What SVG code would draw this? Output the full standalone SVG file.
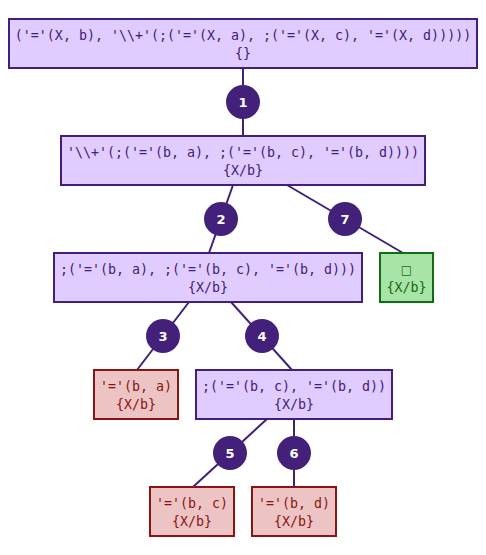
<svg xmlns="http://www.w3.org/2000/svg" width="486" height="555" viewBox="0 0 486 555">
<style>
  .goal rect { fill: #e0ccff; stroke: #40207a; stroke-width: 2; }
  .goal text { fill: #40207a; }
  .fail rect { fill: #ecc4c4; stroke: #8a1414; stroke-width: 2; }
  .fail text { fill: #8a1414; }
  .ok rect { fill: #a8e4a8; stroke: #136b13; stroke-width: 2; }
  .ok text { fill: #136b13; }
  text { font-family: "DejaVu Sans Mono", "Liberation Mono", monospace; font-size: 13.3px; text-anchor: middle; }
  .ok text.sq { font-family: "DejaVu Sans", sans-serif; font-size: 12px; }
  .edges line { stroke: #40207a; stroke-width: 2; }
  .edges circle { fill: #43217a; }
  .edges text { font-family: "DejaVu Sans", "Liberation Sans", sans-serif; font-weight: bold; fill: #ffffff; font-size: 13px; }
</style>
<rect width="486" height="555" fill="#ffffff"/>
<g class="edges" id="connectors">
  <line x1="243" y1="68" x2="243" y2="136"/>
  <line x1="233" y1="185" x2="209" y2="253"/>
  <line x1="287" y1="185" x2="403" y2="253"/>
  <line x1="189" y1="302" x2="137" y2="370"/>
  <line x1="231" y1="302" x2="292" y2="370"/>
  <line x1="267" y1="419" x2="193" y2="487"/>
  <line x1="294" y1="419" x2="294" y2="487"/>
  <circle cx="243" cy="102" r="17"/><text x="243" y="107">1</text>
  <circle cx="221" cy="219" r="17"/><text x="221" y="224">2</text>
  <circle cx="163" cy="336" r="17"/><text x="163" y="341">3</text>
  <circle cx="262" cy="336" r="17"/><text x="262" y="341">4</text>
  <circle cx="230" cy="453" r="17"/><text x="230" y="458">5</text>
  <circle cx="294" cy="453" r="17"/><text x="294" y="458">6</text>
  <circle cx="345" cy="219" r="17"/><text x="345" y="224">7</text>
</g>
<g id="n0" class="goal">
  <rect x="9" y="19" width="468" height="49"/>
  <text x="243" y="39.5">('='(X, b), '\\+'(;('='(X, a), ;('='(X, c), '='(X, d)))))</text>
  <text x="243" y="57.5">{}</text>
</g>
<g id="n1" class="goal">
  <rect x="61" y="136" width="364" height="49"/>
  <text x="243" y="156.5">'\\+'(;('='(b, a), ;('='(b, c), '='(b, d))))</text>
  <text x="243" y="174.5">{X/b}</text>
</g>
<g id="n2" class="goal">
  <rect x="54" y="253" width="308" height="49"/>
  <text x="208" y="273.5">;('='(b, a), ;('='(b, c), '='(b, d)))</text>
  <text x="208" y="291.5">{X/b}</text>
</g>
<g id="n3" class="ok">
  <rect x="380" y="253" width="53" height="49"/>
  <text class="sq" x="406.5" y="273.5">&#x25A1;</text>
  <text x="406.5" y="291.5">{X/b}</text>
</g>
<g id="n4" class="fail">
  <rect x="94" y="370" width="84" height="49"/>
  <text x="136" y="390.5">'='(b, a)</text>
  <text x="136" y="408.5">{X/b}</text>
</g>
<g id="n5" class="goal">
  <rect x="196" y="370" width="196" height="49"/>
  <text x="294" y="390.5">;('='(b, c), '='(b, d))</text>
  <text x="294" y="408.5">{X/b}</text>
</g>
<g id="n6" class="fail">
  <rect x="150" y="487" width="84" height="49"/>
  <text x="192" y="507.5">'='(b, c)</text>
  <text x="192" y="525.5">{X/b}</text>
</g>
<g id="n7" class="fail">
  <rect x="252" y="487" width="84" height="49"/>
  <text x="294" y="507.5">'='(b, d)</text>
  <text x="294" y="525.5">{X/b}</text>
</g>
</svg>
